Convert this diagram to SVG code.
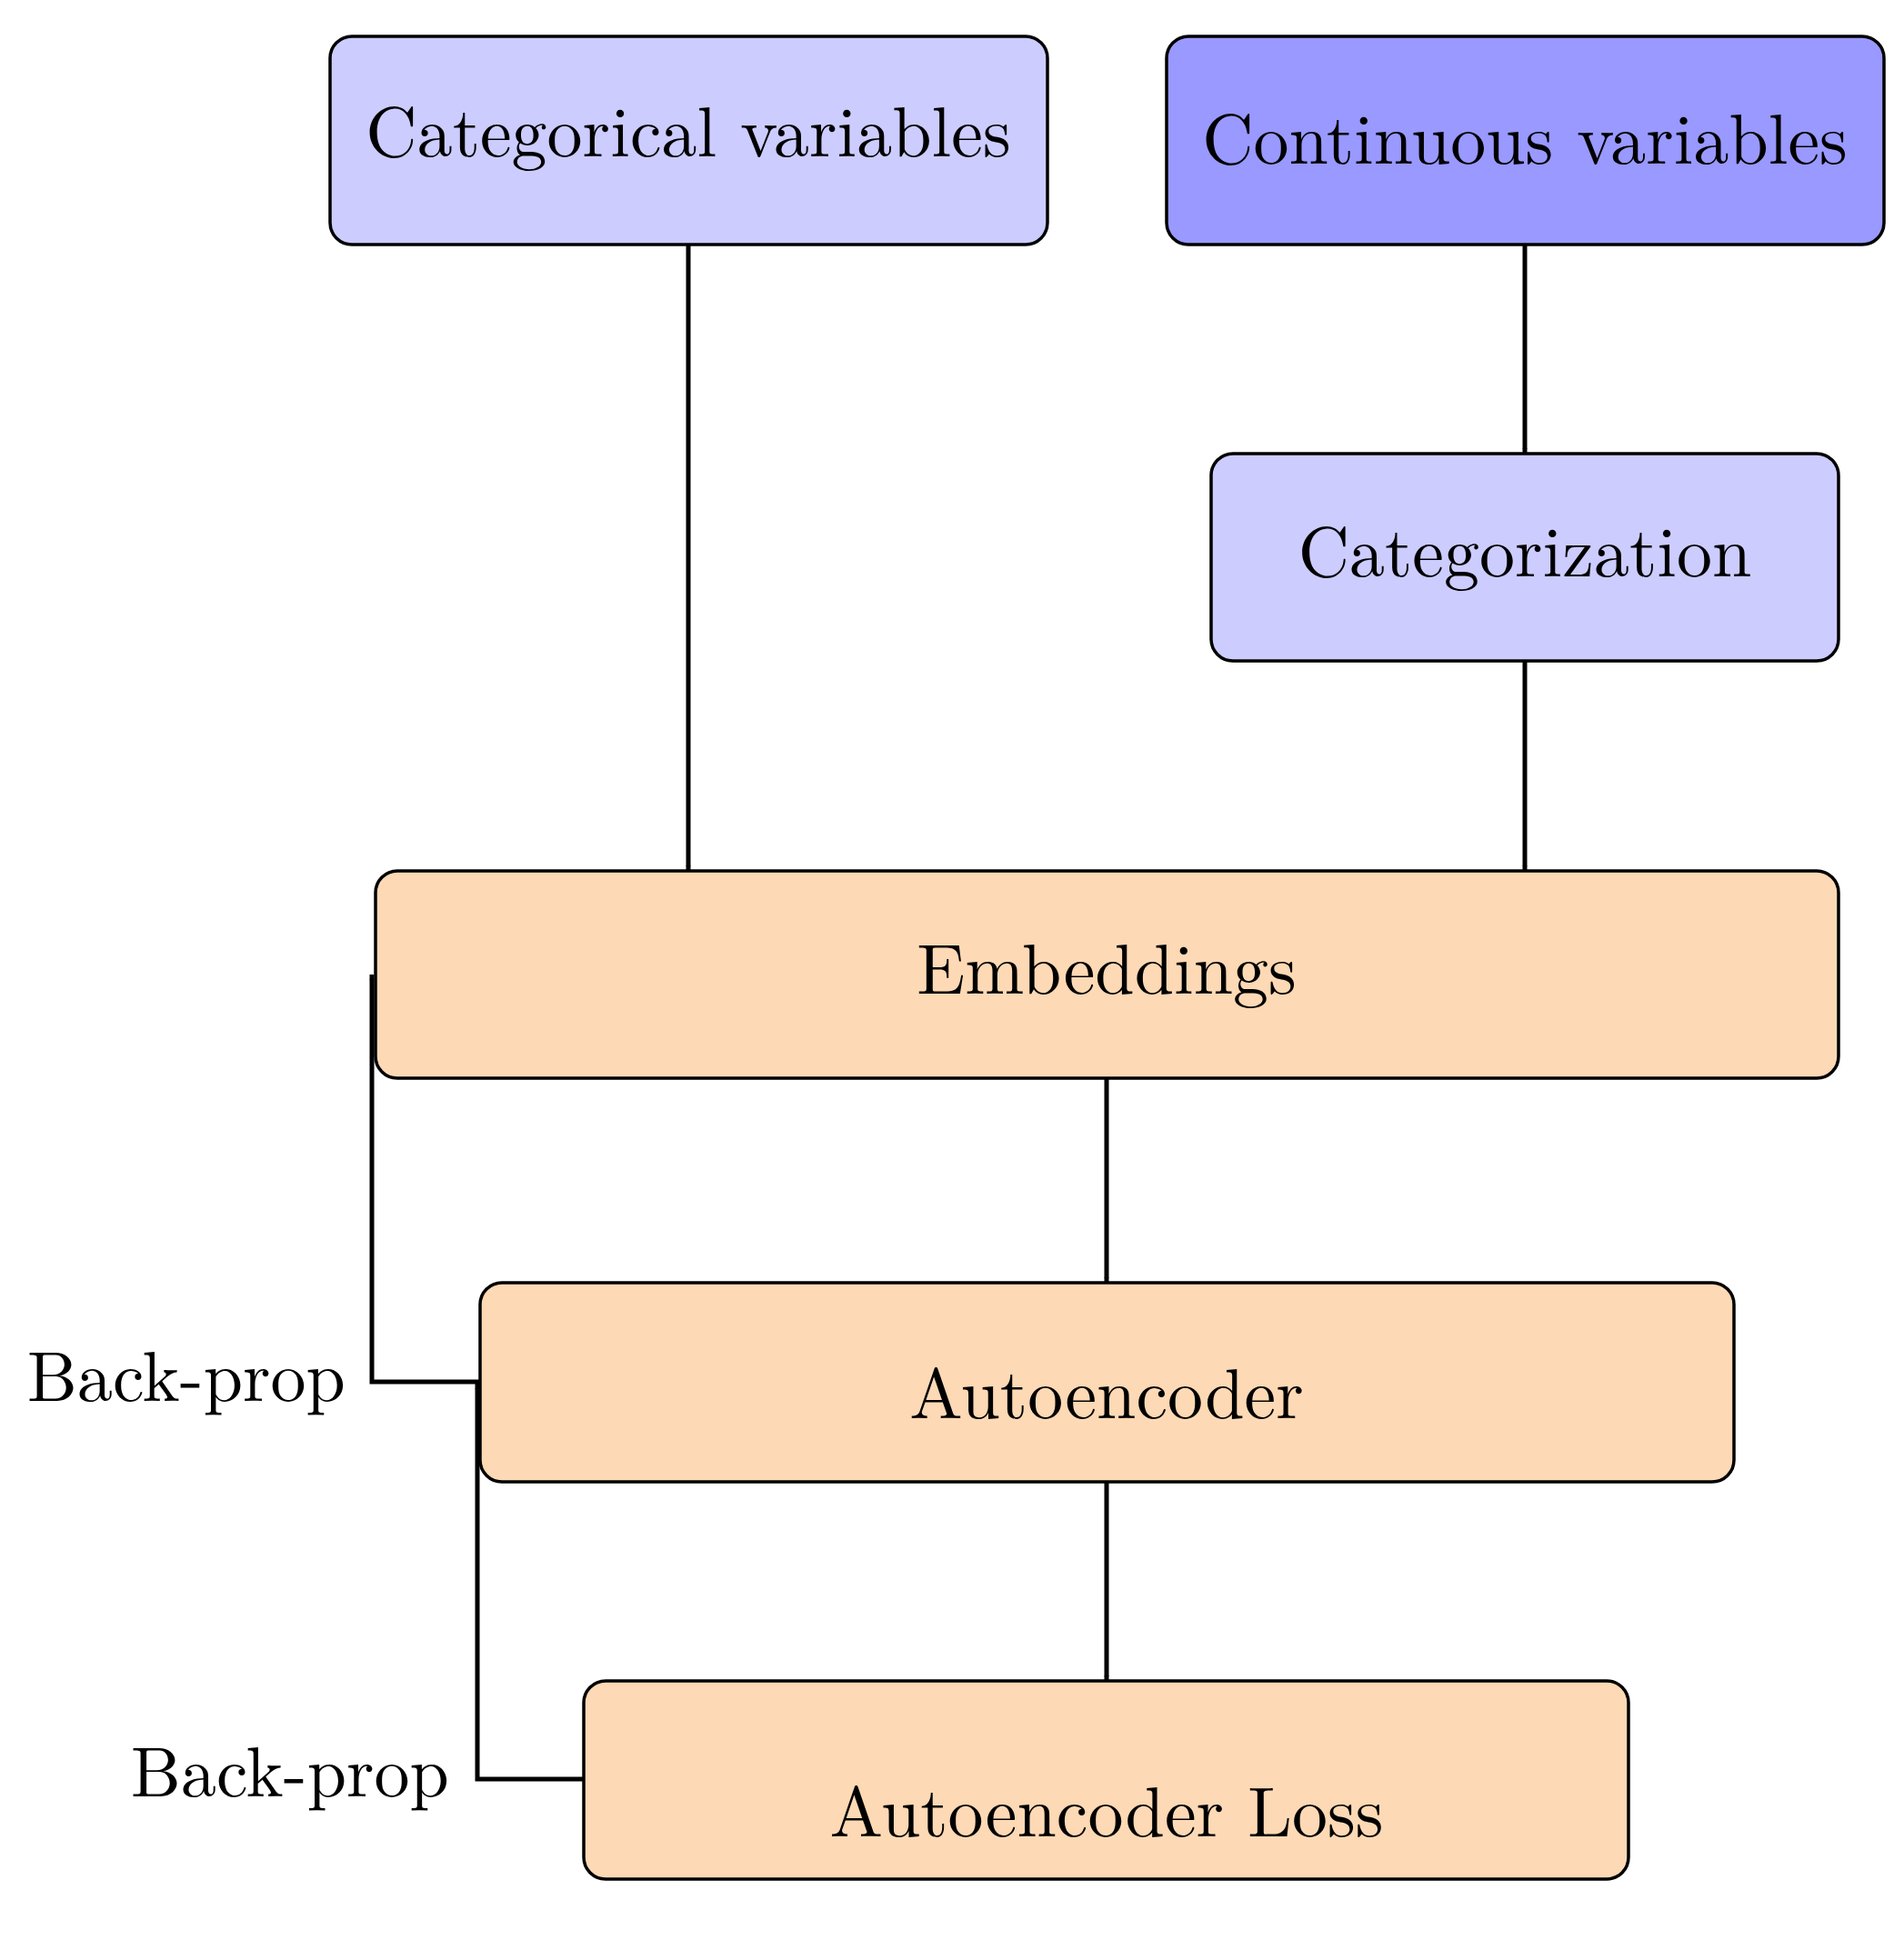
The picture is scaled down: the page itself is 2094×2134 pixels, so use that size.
<svg xmlns="http://www.w3.org/2000/svg" width="2094" height="2134" viewBox="0 0 2094 2134">
<style>
.b{stroke:#000;stroke-width:3.5}
.l{fill:#ccccff}.d{fill:#9999ff}.o{fill:#fdd9b5}
text{font-family:"Latin Modern Roman","Liberation Serif",serif;font-size:78px;fill:#000}
.c{fill:none;stroke:#000;stroke-width:5}
</style>
<defs>
<marker id="a" viewBox="0 0 20 20" refX="18" refY="10" markerWidth="7" markerHeight="7" orient="auto" markerUnits="userSpaceOnUse">
<path d="M0,2 Q10,8 20,10 Q10,12 0,18 Q6,10 0,2Z" fill="#000"/>
</marker>
</defs>
<rect width="2094" height="2134" fill="#fff"/>
<g id="cat"><rect class="b l" x="363" y="40" width="789" height="229" rx="24"/><text x="757" y="172" text-anchor="middle">Categorical variables</text></g>
<g id="cont"><rect class="b d" x="1283" y="40" width="789" height="229" rx="24"/><text x="1677" y="180" text-anchor="middle">Continuous variables</text></g>
<g id="categ"><rect class="b l" x="1332" y="499" width="690" height="228" rx="24"/><text x="1677" y="634" text-anchor="middle">Categorization</text></g>
<g id="emb"><rect class="b o" x="413" y="958" width="1609" height="228" rx="24"/><text x="1217" y="1093" text-anchor="middle">Embeddings</text></g>
<g id="ae"><rect class="b o" x="528" y="1411" width="1379" height="219" rx="24"/><text x="1217" y="1560" text-anchor="middle">Autoencoder</text></g>
<g id="loss"><rect class="b o" x="642" y="1849" width="1149" height="218" rx="24"/><text x="1217" y="2020" text-anchor="middle">Autoencoder Loss</text></g>
<g id="connectors">
<path class="c" marker-end="url(#a)" d="M757,269V958"/>
<path class="c" marker-end="url(#a)" d="M1677,269V499"/>
<path class="c" marker-end="url(#a)" d="M1677,727V958"/>
<path class="c" marker-end="url(#a)" d="M1217,1186V1411"/>
<path class="c" marker-end="url(#a)" d="M1217,1630V1849"/>
<path class="c" marker-end="url(#a)" d="M528,1520H409V1072"/>
<path class="c" marker-end="url(#a)" d="M642,1957H525V1522"/>
</g>
<text x="380" y="1541" text-anchor="end">Back-prop</text>
<text x="494" y="1976" text-anchor="end">Back-prop</text>
</svg>
